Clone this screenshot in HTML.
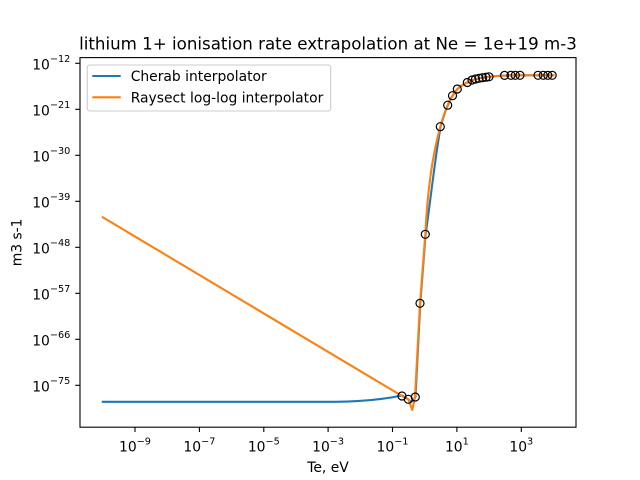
<!DOCTYPE html>
<html><head><meta charset="utf-8"><style>
html,body{margin:0;padding:0;background:#fff;}
svg{display:block;font-family:"DejaVu Sans","Liberation Sans",sans-serif;}
</style></head><body>
<svg width="640" height="480" viewBox="0 0 640 480" xmlns="http://www.w3.org/2000/svg">
<rect width="640" height="480" fill="#fff"/>
<!-- title -->
<text x="328" y="49.5" font-size="16.67" text-anchor="middle" fill="#000">lithium 1+ ionisation rate extrapolation at Ne = 1e+19 m-3</text>

<!-- series -->
<g fill="none" stroke-width="2.08" stroke-linejoin="round" stroke-linecap="square">
<path stroke="#1f77b4" d="M102.8,401.8 L335,401.8 C365,401.6 385,399 402,395.5 L408.3,399.3 L411,402 L414,399.5 L415.5,397 L420.3,303.3 L425.6,234.3 C430,205 434,165 440.6,126.7 C444,115 446,109 447.9,105.2 C450,100 451,98 452.7,95.7 C454,93 455.5,91 457.5,89 C461,85.5 464,84 467.3,82.5 C471,80.5 474,79.3 479,78.3 C484,77.3 489,76.8 497,76 C504,75.5 512,75.3 520,75.3 L553.5,75.3"/>
<path stroke="#ff7f0e" d="M102.8,217.3 L402,396 L408.3,399.3 L412.3,410 L415,397 L420,303.3 L425.3,234.3 C427,200 431,160 440.3,126.7 C443.5,115 446,109 447.7,105.2 C449.5,100 451,98 452.5,95.7 C454,93 455.5,91 457.3,89 C461,85.5 464,84 467.3,82.5 C471,80.5 474,79.3 479,78.3 C484,77.3 489,76.8 497,76 C504,75.5 512,75.3 520,75.3 L553.5,75.3"/>
</g>

<!-- markers -->
<g fill="none" stroke="#000" stroke-width="1.2">
<circle cx="402" cy="396" r="4"/>
<circle cx="408.3" cy="399.3" r="4"/>
<circle cx="415.3" cy="397" r="4"/>
<circle cx="420" cy="303.3" r="4"/>
<circle cx="425.3" cy="234.3" r="4"/>
<circle cx="440.3" cy="126.7" r="4"/>
<circle cx="447.7" cy="105.2" r="4"/>
<circle cx="452.5" cy="95.7" r="4"/>
<circle cx="457.3" cy="89" r="4"/>
<circle cx="467.3" cy="82.5" r="4"/>
<circle cx="472" cy="80" r="4"/>
<circle cx="475.5" cy="79" r="4"/>
<circle cx="479" cy="78.3" r="4"/>
<circle cx="482.5" cy="77.7" r="4"/>
<circle cx="486" cy="77.2" r="4"/>
<circle cx="489" cy="76.8" r="4"/>
<circle cx="504.5" cy="75.4" r="4"/>
<circle cx="511" cy="75.3" r="4"/>
<circle cx="515.3" cy="75.3" r="4"/>
<circle cx="520" cy="75.3" r="4"/>
<circle cx="538" cy="75.3" r="4"/>
<circle cx="543.3" cy="75.3" r="4"/>
<circle cx="547.8" cy="75.3" r="4"/>
<circle cx="552.2" cy="75.3" r="4"/>
</g>

<!-- axes frame -->
<rect x="80" y="57.6" width="496" height="369.6" fill="none" stroke="#000" stroke-width="1.1"/>

<!-- x ticks -->
<g stroke="#000" stroke-width="1.1">
<line x1="135" y1="427.2" x2="135" y2="432"/>
<line x1="199.4" y1="427.2" x2="199.4" y2="432"/>
<line x1="263.8" y1="427.2" x2="263.8" y2="432"/>
<line x1="328.1" y1="427.2" x2="328.1" y2="432"/>
<line x1="392.5" y1="427.2" x2="392.5" y2="432"/>
<line x1="456.9" y1="427.2" x2="456.9" y2="432"/>
<line x1="521.3" y1="427.2" x2="521.3" y2="432"/>
</g>
<g font-size="13.89" text-anchor="middle" fill="#000">
<text x="135" y="451.7">10<tspan dy="-7" font-size="9.7">−9</tspan></text>
<text x="199.4" y="451.7">10<tspan dy="-7" font-size="9.7">−7</tspan></text>
<text x="263.8" y="451.7">10<tspan dy="-7" font-size="9.7">−5</tspan></text>
<text x="328.1" y="451.7">10<tspan dy="-7" font-size="9.7">−3</tspan></text>
<text x="392.5" y="451.7">10<tspan dy="-7" font-size="9.7">−1</tspan></text>
<text x="456.9" y="451.7">10<tspan dy="-7" font-size="9.7">1</tspan></text>
<text x="521.3" y="451.7">10<tspan dy="-7" font-size="9.7">3</tspan></text>
</g>

<!-- y ticks -->
<g stroke="#000" stroke-width="1.1">
<line x1="75.2" y1="63.3" x2="80" y2="63.3"/>
<line x1="75.2" y1="109.3" x2="80" y2="109.3"/>
<line x1="75.2" y1="155.3" x2="80" y2="155.3"/>
<line x1="75.2" y1="201.3" x2="80" y2="201.3"/>
<line x1="75.2" y1="247.3" x2="80" y2="247.3"/>
<line x1="75.2" y1="293.3" x2="80" y2="293.3"/>
<line x1="75.2" y1="339.3" x2="80" y2="339.3"/>
<line x1="75.2" y1="385.3" x2="80" y2="385.3"/>
</g>
<g font-size="13.89" text-anchor="end" fill="#000">
<text x="70.3" y="69.5">10<tspan dy="-7.5" font-size="9.7">−12</tspan></text>
<text x="70.3" y="115.5">10<tspan dy="-7.5" font-size="9.7">−21</tspan></text>
<text x="70.3" y="161.5">10<tspan dy="-7.5" font-size="9.7">−30</tspan></text>
<text x="70.3" y="207.5">10<tspan dy="-7.5" font-size="9.7">−39</tspan></text>
<text x="70.3" y="253.5">10<tspan dy="-7.5" font-size="9.7">−48</tspan></text>
<text x="70.3" y="299.5">10<tspan dy="-7.5" font-size="9.7">−57</tspan></text>
<text x="70.3" y="345.5">10<tspan dy="-7.5" font-size="9.7">−66</tspan></text>
<text x="70.3" y="391.5">10<tspan dy="-7.5" font-size="9.7">−75</tspan></text>
</g>

<!-- axis labels -->
<text x="328" y="472" font-size="13.89" text-anchor="middle" fill="#000">Te, eV</text>
<text transform="translate(21.5,242.4) rotate(-90)" font-size="13.89" text-anchor="middle" fill="#000">m3 s-1</text>

<!-- legend -->
<rect x="87.3" y="65" width="243.4" height="46" rx="2.5" ry="2.5" fill="#fff" fill-opacity="0.8" stroke="#cccccc" stroke-width="1.1"/>
<line x1="92.3" y1="76" x2="120.7" y2="76" stroke="#1f77b4" stroke-width="2.08"/>
<line x1="92.3" y1="97.3" x2="120.7" y2="97.3" stroke="#ff7f0e" stroke-width="2.08"/>
<text x="130.7" y="81" font-size="13.89" fill="#000">Cherab interpolator</text>
<text x="130.7" y="102.3" font-size="13.89" fill="#000">Raysect log-log interpolator</text>
</svg>
</body></html>
